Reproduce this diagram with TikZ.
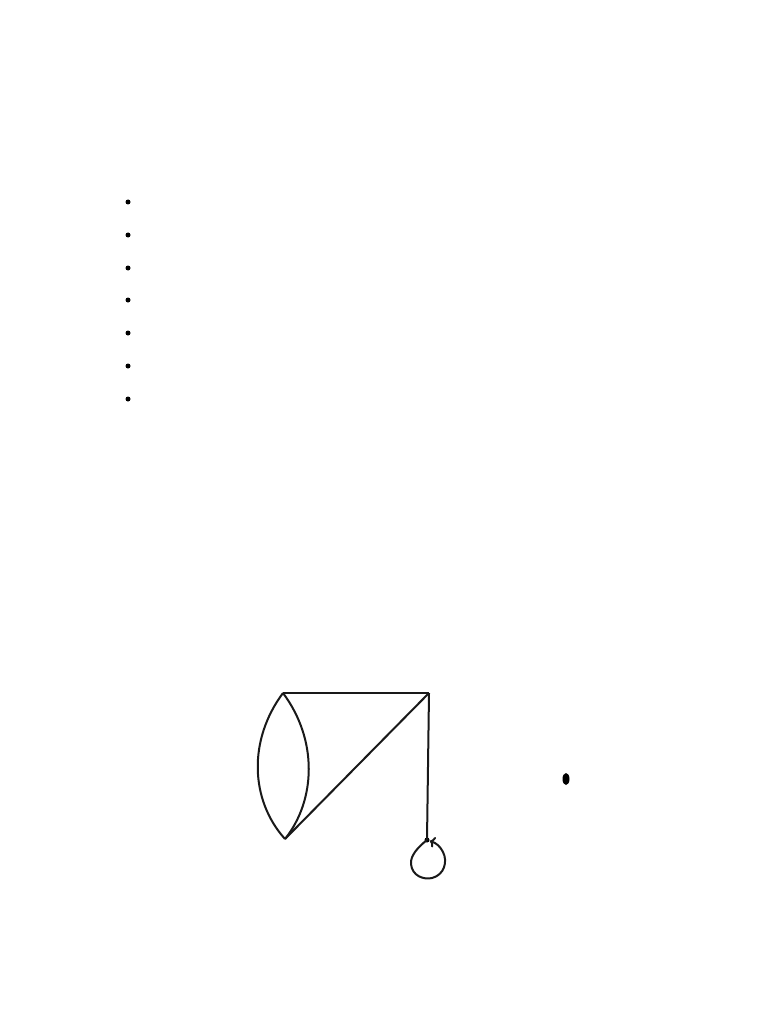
\documentclass[tikz,border=0pt]{standalone}
\usetikzlibrary{shapes.geometric,arrows.meta}
\begin{document}
\begin{tikzpicture}[x=1pt,y=-1pt,
  edge/.style={line width=2pt,draw=black!90},
  bullet/.style={circle,fill=black,inner sep=0pt,minimum size=5pt},
  vdot/.style={circle,fill=black,inner sep=0pt,minimum size=5pt},
  lonenode/.style={ellipse,fill=black,inner sep=0pt,minimum width=7pt,minimum height=12pt}]
\useasboundingbox (0,0) rectangle (768,1024);
\foreach \i/\y in {1/202,2/235,3/268,4/300,5/333,6/366,7/399}
  \node[bullet] (b\i) at (128,\y) {};
\coordinate (A) at (283,693);
\coordinate (B) at (429,693);
\coordinate (C) at (285,839);
\node[vdot] (D) at (427,840) {};
\node[lonenode] (E) at (566,779) {};
\draw[edge] (A) -- (B);
\draw[edge] (B) -- (C);
\draw[edge] (B) -- (D.center);
\draw[edge] (A) .. controls (248,740) and (250,800) .. (C);
\draw[edge] (A) .. controls (318,740) and (316,800) .. (C);
\draw[edge,-{To[length=5pt,width=11pt]},shorten >=3pt] (D.center) .. controls (418,847) and (410,856) .. (411,864)
  .. controls (412,876) and (424,880) .. (432,878)
  .. controls (444,875) and (448,862) .. (443,852)
  .. controls (440,846) and (436,843) .. (D.center);
\end{tikzpicture}
\end{document}
